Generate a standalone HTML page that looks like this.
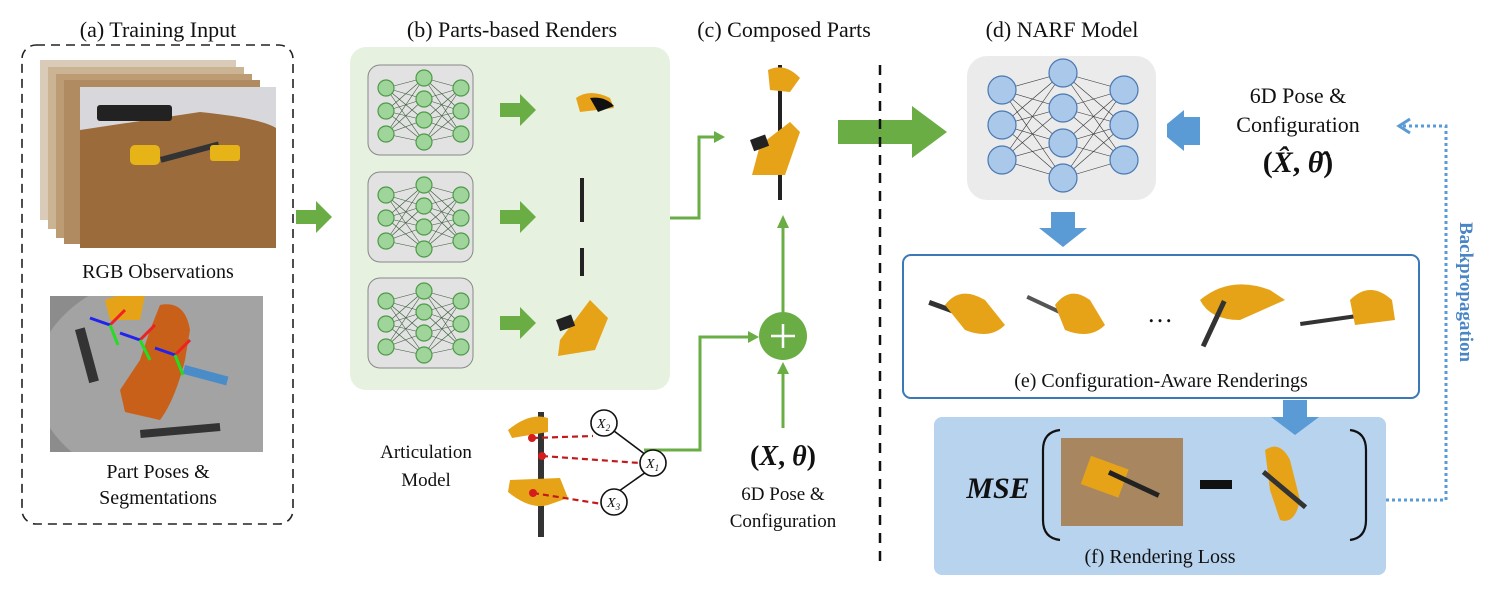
<!DOCTYPE html>
<html><head><meta charset="utf-8"><style>
html,body{margin:0;padding:0;background:#fff}
svg{display:block}
text{font-family:"Liberation Serif",serif;fill:#111}
</style></head><body>
<svg width="1499" height="591" viewBox="0 0 1499 591" xmlns="http://www.w3.org/2000/svg">
<defs>
<g id="nng">
<g stroke="#3a5a3a" stroke-width="0.6">
<line x1="17" y1="22" x2="55" y2="12"/><line x1="17" y1="22" x2="55" y2="33"/><line x1="17" y1="22" x2="55" y2="54"/><line x1="17" y1="22" x2="55" y2="76"/>
<line x1="17" y1="45" x2="55" y2="12"/><line x1="17" y1="45" x2="55" y2="33"/><line x1="17" y1="45" x2="55" y2="54"/><line x1="17" y1="45" x2="55" y2="76"/>
<line x1="17" y1="68" x2="55" y2="12"/><line x1="17" y1="68" x2="55" y2="33"/><line x1="17" y1="68" x2="55" y2="54"/><line x1="17" y1="68" x2="55" y2="76"/>
<line x1="92" y1="22" x2="55" y2="12"/><line x1="92" y1="22" x2="55" y2="33"/><line x1="92" y1="22" x2="55" y2="54"/><line x1="92" y1="22" x2="55" y2="76"/>
<line x1="92" y1="45" x2="55" y2="12"/><line x1="92" y1="45" x2="55" y2="33"/><line x1="92" y1="45" x2="55" y2="54"/><line x1="92" y1="45" x2="55" y2="76"/>
<line x1="92" y1="68" x2="55" y2="12"/><line x1="92" y1="68" x2="55" y2="33"/><line x1="92" y1="68" x2="55" y2="54"/><line x1="92" y1="68" x2="55" y2="76"/>
</g>
<g fill="#9fd49a" stroke="#4d9a48" stroke-width="1.2">
<circle cx="17" cy="22" r="8"/><circle cx="17" cy="45" r="8"/><circle cx="17" cy="68" r="8"/>
<circle cx="55" cy="12" r="8"/><circle cx="55" cy="33" r="8"/><circle cx="55" cy="54" r="8"/><circle cx="55" cy="76" r="8"/>
<circle cx="92" cy="22" r="8"/><circle cx="92" cy="45" r="8"/><circle cx="92" cy="68" r="8"/>
</g>
</g>
<g id="garrow"><polygon points="0,-7 20,-7 20,-16 36,0 20,16 20,7 0,7" fill="#6aad45"/></g>
<clipPath id="segclip"><rect x="50" y="296" width="213" height="156"/></clipPath>
</defs>

<!-- titles -->
<text x="158" y="37" font-size="22" text-anchor="middle">(a) Training Input</text>
<text x="512" y="37" font-size="22" text-anchor="middle">(b) Parts-based Renders</text>
<text x="784" y="37" font-size="22" text-anchor="middle">(c) Composed Parts</text>
<text x="1062" y="37" font-size="22" text-anchor="middle">(d) NARF Model</text>

<!-- (a) -->
<rect x="22" y="45" width="271" height="479" rx="14" fill="none" stroke="#222" stroke-width="1.6" stroke-dasharray="9,6"/>
<rect x="40" y="60" width="196" height="160" fill="#d9cbb8"/>
<rect x="48" y="67" width="196" height="162" fill="#cbb494"/>
<rect x="56" y="74" width="196" height="164" fill="#bd9c74"/>
<rect x="64" y="80" width="196" height="164" fill="#b08a60"/>
<rect x="80" y="87" width="196" height="161" fill="#d8d8dc"/>
<path d="M80 130 L200 112 Q260 118 276 128 L276 248 L80 248 Z" fill="#9c6b3c"/>
<rect x="97" y="105" width="75" height="16" rx="3" fill="#222"/>
<rect x="130" y="145" width="30" height="20" rx="5" fill="#e7b418"/>
<rect x="160" y="157" width="60" height="6" fill="#333" transform="rotate(-15 160 157)"/>
<rect x="210" y="145" width="30" height="16" rx="3" fill="#e7b418"/>
<text x="158" y="278" font-size="20" text-anchor="middle">RGB Observations</text>
<rect x="50" y="296" width="213" height="156" fill="#8c8c8c"/>
<g clip-path="url(#segclip)">
<ellipse cx="185" cy="380" rx="150" ry="110" fill="#a3a3a3"/>
<path d="M105 300 Q130 290 145 295 L140 320 L110 320 Z" fill="#e6a318"/>
<path d="M160 305 Q185 300 190 330 L185 360 Q175 400 160 420 L125 412 L120 390 L140 360 L150 330 Z" fill="#c9601a"/>
<rect x="185" y="365" width="45" height="9" fill="#4a8cc8" transform="rotate(15 185 365)"/>
<rect x="75" y="330" width="10" height="55" fill="#333" transform="rotate(-15 75 330)"/>
<rect x="140" y="430" width="80" height="8" fill="#333" transform="rotate(-5 140 430)"/>
<g stroke-width="3" fill="none">
<line x1="110" y1="325" x2="125" y2="310" stroke="#e22"/><line x1="110" y1="325" x2="90" y2="318" stroke="#22e"/><line x1="110" y1="325" x2="118" y2="345" stroke="#2d2"/>
<line x1="140" y1="340" x2="155" y2="325" stroke="#e22"/><line x1="140" y1="340" x2="120" y2="333" stroke="#22e"/><line x1="140" y1="340" x2="150" y2="360" stroke="#2d2"/>
<line x1="175" y1="355" x2="190" y2="340" stroke="#e22"/><line x1="175" y1="355" x2="155" y2="348" stroke="#22e"/><line x1="175" y1="355" x2="183" y2="375" stroke="#2d2"/>
</g>
</g>
<text x="158" y="478" font-size="20" text-anchor="middle">Part Poses &amp;</text>
<text x="158" y="504" font-size="20" text-anchor="middle">Segmentations</text>

<use href="#garrow" x="296" y="217"/>

<!-- (b) -->
<rect x="350" y="47" width="320" height="343" rx="16" fill="#e6f2df"/>
<rect x="368" y="65" width="105" height="90" rx="12" fill="#e2e2e2" stroke="#888"/>
<use href="#nng" x="369" y="66"/>
<rect x="368" y="172" width="105" height="90" rx="12" fill="#e2e2e2" stroke="#888"/>
<use href="#nng" x="369" y="173"/>
<rect x="368" y="278" width="105" height="90" rx="12" fill="#e2e2e2" stroke="#888"/>
<use href="#nng" x="369" y="279"/>
<use href="#garrow" x="500" y="110"/>
<use href="#garrow" x="500" y="217"/>
<use href="#garrow" x="500" y="323"/>
<path d="M576 98 Q590 88 610 98 L614 108 L580 112 Z" fill="#e8a21a"/>
<path d="M590 98 Q605 96 614 106 L598 112 Z" fill="#111"/>
<rect x="580" y="178" width="4" height="44" fill="#222"/>
<rect x="580" y="248" width="4" height="28" fill="#222"/>
<path d="M560 340 L590 300 L608 318 L595 350 L558 356 Z" fill="#e6a318"/>
<rect x="556" y="320" width="16" height="12" fill="#222" transform="rotate(-20 556 320)"/>

<!-- (c) -->
<path d="M670 218 L699 218 L699 137 L715 137" fill="none" stroke="#6aad45" stroke-width="3"/>
<polygon points="714,131 725,137 714,143" fill="#6aad45"/>
<rect x="778" y="65" width="4" height="135" fill="#222"/>
<path d="M768 70 Q785 62 800 78 L790 92 L770 90 Z" fill="#e6a318"/>
<path d="M760 145 L790 122 L800 132 L785 175 L752 175 Z" fill="#e6a318"/>
<rect x="750" y="140" width="16" height="12" fill="#222" transform="rotate(-20 750 140)"/>
<line x1="783" y1="312" x2="783" y2="225" stroke="#6aad45" stroke-width="3"/>
<polygon points="777,228 783,215 789,228" fill="#6aad45"/>
<circle cx="783" cy="336" r="24" fill="#6aad45"/>
<line x1="771" y1="336" x2="795" y2="336" stroke="#fff" stroke-width="2.5"/>
<line x1="783" y1="324" x2="783" y2="348" stroke="#fff" stroke-width="2.5"/>
<line x1="783" y1="428" x2="783" y2="372" stroke="#6aad45" stroke-width="3"/>
<polygon points="777,374 783,362 789,374" fill="#6aad45"/>
<path d="M644 450 L700 450 L700 337 L750 337" fill="none" stroke="#6aad45" stroke-width="3"/>
<polygon points="748,331 759,337 748,343" fill="#6aad45"/>
<text x="783" y="465" font-size="28" font-weight="bold" text-anchor="middle">(<tspan font-style="italic">X</tspan>, <tspan font-style="italic">θ</tspan>)</text>
<text x="783" y="500" font-size="19" text-anchor="middle">6D Pose &amp;</text>
<text x="783" y="527" font-size="19" text-anchor="middle">Configuration</text>

<!-- articulation -->
<text x="426" y="458" font-size="19" text-anchor="middle">Articulation</text>
<text x="426" y="486" font-size="19" text-anchor="middle">Model</text>
<rect x="538" y="412" width="6" height="125" fill="#333"/>
<path d="M508 430 Q530 412 548 418 L548 432 L512 438 Z" fill="#e6a318"/>
<path d="M508 492 Q530 510 548 505 L568 498 L560 478 L510 480 Z" fill="#e6a318"/>
<g stroke="#c21a1a" stroke-width="2.2" stroke-dasharray="6,4"><line x1="532" y1="438" x2="593" y2="436"/><line x1="542" y1="456" x2="640" y2="463"/><line x1="533" y1="493" x2="602" y2="504"/></g>
<g fill="#d41c1c"><circle cx="532" cy="438" r="4"/><circle cx="542" cy="456" r="4"/><circle cx="533" cy="493" r="4"/></g>
<g stroke="#111" stroke-width="1.6"><line x1="606" y1="425" x2="646" y2="455"/><line x1="612" y1="496" x2="646" y2="472"/></g>
<g fill="#fff" stroke="#111" stroke-width="1.6"><circle cx="604" cy="423" r="13"/><circle cx="653" cy="463" r="13"/><circle cx="614" cy="502" r="13"/></g>
<text x="597" y="428" font-size="14" font-style="italic">X<tspan font-size="9" dy="3">2</tspan></text>
<text x="646" y="468" font-size="14" font-style="italic">X<tspan font-size="9" dy="3">1</tspan></text>
<text x="607" y="507" font-size="14" font-style="italic">X<tspan font-size="9" dy="3">3</tspan></text>

<!-- big green arrow -->
<polygon points="838,120 912,120 912,106 947,132 912,158 912,144 838,144" fill="#6aad45"/>
<line x1="880" y1="65" x2="880" y2="565" stroke="#111" stroke-width="2.5" stroke-dasharray="10,8"/>

<!-- (d) -->
<rect x="967" y="56" width="189" height="144" rx="20" fill="#ebebeb"/>
<g stroke="#333" stroke-width="0.6">
<line x1="1002" y1="90" x2="1063" y2="73"/><line x1="1002" y1="90" x2="1063" y2="108"/><line x1="1002" y1="90" x2="1063" y2="143"/><line x1="1002" y1="90" x2="1063" y2="178"/>
<line x1="1002" y1="125" x2="1063" y2="73"/><line x1="1002" y1="125" x2="1063" y2="108"/><line x1="1002" y1="125" x2="1063" y2="143"/><line x1="1002" y1="125" x2="1063" y2="178"/>
<line x1="1002" y1="160" x2="1063" y2="73"/><line x1="1002" y1="160" x2="1063" y2="108"/><line x1="1002" y1="160" x2="1063" y2="143"/><line x1="1002" y1="160" x2="1063" y2="178"/>
<line x1="1124" y1="90" x2="1063" y2="73"/><line x1="1124" y1="90" x2="1063" y2="108"/><line x1="1124" y1="90" x2="1063" y2="143"/><line x1="1124" y1="90" x2="1063" y2="178"/>
<line x1="1124" y1="125" x2="1063" y2="73"/><line x1="1124" y1="125" x2="1063" y2="108"/><line x1="1124" y1="125" x2="1063" y2="143"/><line x1="1124" y1="125" x2="1063" y2="178"/>
<line x1="1124" y1="160" x2="1063" y2="73"/><line x1="1124" y1="160" x2="1063" y2="108"/><line x1="1124" y1="160" x2="1063" y2="143"/><line x1="1124" y1="160" x2="1063" y2="178"/>
</g>
<g fill="#a9c8ea" stroke="#4a78b0" stroke-width="1.2">
<circle cx="1002" cy="90" r="14"/><circle cx="1002" cy="125" r="14"/><circle cx="1002" cy="160" r="14"/>
<circle cx="1063" cy="73" r="14"/><circle cx="1063" cy="108" r="14"/><circle cx="1063" cy="143" r="14"/><circle cx="1063" cy="178" r="14"/>
<circle cx="1124" cy="90" r="14"/><circle cx="1124" cy="125" r="14"/><circle cx="1124" cy="160" r="14"/>
</g>
<polygon points="1167,124 1184,110 1184,117 1200,117 1200,145 1184,145 1184,151 1167,137" fill="#5b9bd5"/>
<text x="1298" y="103" font-size="22" text-anchor="middle">6D Pose &amp;</text>
<text x="1298" y="132" font-size="22" text-anchor="middle">Configuration</text>
<text x="1298" y="172" font-size="30" font-weight="bold" text-anchor="middle">(<tspan font-style="italic">X̂</tspan>, <tspan font-style="italic">θ̂</tspan>)</text>
<path d="M1386 500 L1446 500 L1446 126 L1402 126" fill="none" stroke="#5b9bd5" stroke-width="3" stroke-dasharray="3,3"/>
<polyline points="1410,119 1399,126 1410,133" fill="none" stroke="#5b9bd5" stroke-width="3"/>
<text x="0" y="0" font-size="19" font-weight="bold" style="fill:#4a86c5" transform="translate(1460,222) rotate(90)">Backpropagation</text>

<polygon points="1051,212 1075,212 1075,228 1087,228 1063,247 1039,228 1051,228" fill="#5b9bd5"/>
<rect x="903" y="255" width="516" height="143" rx="8" fill="#fff" stroke="#3a78b8" stroke-width="2"/>
<g>
<rect x="930" y="300" width="70" height="5" fill="#333" transform="rotate(20 930 300)"/>
<path d="M945 305 Q960 285 985 300 L1005 325 Q990 340 965 330 Z" fill="#e6a318"/>
<rect x="1028" y="295" width="60" height="4" fill="#555" transform="rotate(25 1028 295)"/>
<path d="M1055 305 Q1070 285 1090 300 L1105 325 Q1090 340 1065 330 Z" fill="#e6a318"/>
<text x="1160" y="322" font-size="26" text-anchor="middle">…</text>
<path d="M1200 300 Q1230 275 1270 290 L1285 300 L1240 320 Q1210 320 1200 300 Z" fill="#e6a318"/>
<rect x="1222" y="300" width="5" height="50" fill="#333" transform="rotate(25 1222 300)"/>
<rect x="1300" y="322" width="60" height="4" fill="#333" transform="rotate(-8 1300 322)"/>
<path d="M1350 300 Q1370 280 1392 300 L1395 320 L1355 325 Z" fill="#e6a318"/>
</g>
<text x="1161" y="387" font-size="20" text-anchor="middle">(e) Configuration-Aware Renderings</text>

<rect x="934" y="417" width="452" height="158" rx="8" fill="#b8d3ee"/>
<polygon points="1283,400 1307,400 1307,417 1319,417 1295,435 1271,417 1283,417" fill="#5b9bd5"/>
<text x="998" y="498" font-size="30" font-weight="bold" font-style="italic" text-anchor="middle">MSE</text>
<path d="M1060 430 Q1043 432 1043 450 L1043 520 Q1043 538 1060 540" fill="none" stroke="#111" stroke-width="2.2"/>
<path d="M1350 430 Q1366 432 1366 450 L1366 520 Q1366 538 1350 540" fill="none" stroke="#111" stroke-width="2.2"/>
<rect x="1061" y="438" width="122" height="88" fill="#a88660"/>
<rect x="1085" y="460" width="40" height="30" fill="#e6a318" transform="rotate(20 1100 475)"/>
<rect x="1110" y="470" width="55" height="5" fill="#222" transform="rotate(25 1110 470)"/>
<rect x="1200" y="480" width="32" height="9" fill="#111"/>
<path d="M1265 450 Q1280 440 1290 460 L1300 500 Q1295 525 1280 520 L1270 490 Z" fill="#e6a318"/>
<rect x="1265" y="470" width="55" height="5" fill="#333" transform="rotate(40 1265 470)"/>
<text x="1160" y="563" font-size="20" text-anchor="middle">(f) Rendering Loss</text>
</svg>
</body></html>
